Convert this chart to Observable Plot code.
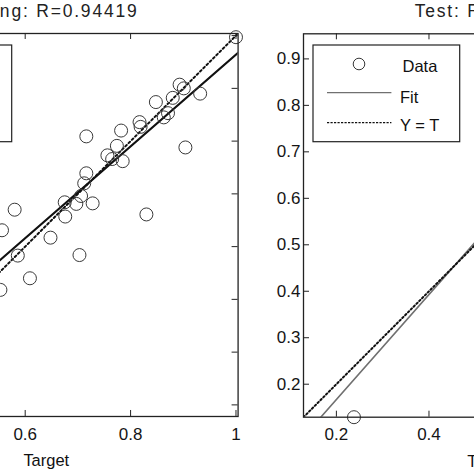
<!DOCTYPE html>
<html><head><meta charset="utf-8">
<script src="https://cdn.jsdelivr.net/npm/d3@7"></script>
<script src="https://cdn.jsdelivr.net/npm/@observablehq/plot@0.6"></script>
<style>
html,body{margin:0;padding:0;background:#fff;}
#wrap{position:relative;width:474px;height:474px;overflow:hidden;background:#fff;}
#wrap svg{position:absolute;top:0;}
</style></head><body><div id="wrap"></div>
<script>
// ---- Training panel (left, cropped on its left side) ----
const trainTitle = "Training: R=0.94419";
const trainTarget = [1.0, 0.893, 0.901, 0.932, 0.880, 0.848, 0.871, 0.863, 0.817, 0.819, 0.782, 0.716, 0.774, 0.904, 0.756, 0.765, 0.785, 0.716, 0.712, 0.706, 0.675, 0.697, 0.728, 0.676, 0.580, 0.830, 0.556, 0.648, 0.586, 0.703, 0.609, 0.553];
const trainOutput = [0.997, 0.907, 0.900, 0.890, 0.882, 0.874, 0.853, 0.845, 0.836, 0.827, 0.820, 0.809, 0.791, 0.788, 0.773, 0.766, 0.762, 0.739, 0.720, 0.696, 0.684, 0.681, 0.682, 0.657, 0.670, 0.661, 0.631, 0.617, 0.583, 0.584, 0.540, 0.518];
const trainFit = [0.87, 0.094]; // slope, intercept
const trainLimits = [0.278, 1.004];
const trainXTicks = [0.4, 0.6, 0.8, 1];
const trainYTicks = [0.3, 0.4, 0.5, 0.6, 0.7, 0.8, 0.9, 1];

// ---- Test panel (right, cropped on its right side) ----
const testTitle = "Test: R=0.9";
const testTarget = [0.238];
const testOutput = [0.129];
const testFit = [1.13, -0.059];
const testLimits = [0.129, 0.954];
const testXTicks = [0.2, 0.4, 0.6, 0.8];
const testYTicks = [0.2, 0.3, 0.4, 0.5, 0.6, 0.7, 0.8, 0.9];

const legendLabels = ["Data", "Fit", "Y = T"];
const axisLabel = "Target";

const FONT = "'Liberation Sans', Arial, Helvetica, sans-serif";
const wrap = document.getElementById("wrap");

function panel(o) {
  const mL = 60, mR = 10;
  const data = o.target.map((t, i) => ({t, o: o.output[i]}));
  const fitLine = o.limits.map(x => ({x, y: o.fit[0] * x + o.fit[1]}));
  const idLine = o.limits.map(x => ({x, y: x}));
  const svg = Plot.plot({
    width: mL + o.areaW + mR, height: 474,
    marginLeft: mL, marginRight: mR, marginTop: o.top, marginBottom: 474 - o.top - o.areaH,
    x: {domain: o.limits}, y: {domain: o.limits},
    style: {background: "none", fontFamily: FONT, fontSize: "17px", color: "#151515", overflow: "visible", maxWidth: "none"},
    marks: [
      Plot.line(fitLine, {x: "x", y: "y", stroke: o.fitColor, strokeWidth: o.fitWidth, clip: true}),
      Plot.line(idLine, {x: "x", y: "y", stroke: "#111", strokeWidth: 2, strokeDasharray: o.dash, clip: true}),
      Plot.dot(data, {x: "t", y: "o", r: 6.5, stroke: "#383838", strokeWidth: 1, fill: "none"}),
      Plot.frame({stroke: "#222", strokeWidth: 1.3}),
      Plot.tickX(o.xTicks, {x: d => d, insetTop: o.areaH - 6, stroke: "#222"}),
      Plot.tickX(o.xTicks, {x: d => d, insetBottom: o.areaH - 6, stroke: "#222"}),
      Plot.tickY(o.yTicks, {y: d => d, insetLeft: o.areaW - 6, stroke: "#222"}),
      Plot.tickY(o.yTicks, {y: d => d, insetRight: o.areaW - 6, stroke: "#222"}),
      Plot.axisX(o.xTicks, {tickSize: 0, tickPadding: 11, tickFormat: d => String(d), label: null}),
      Plot.axisY(o.yTicks, {tickSize: 0, tickPadding: 3, tickFormat: d => String(d), label: null})
    ]
  });
  svg.style.left = o.left + "px";
  wrap.appendChild(svg);
  const s = d3.select(svg);
  // title
  s.append("text").attr("x", o.titleX).attr("y", 16.7).attr("text-anchor", o.titleAnchor)
    .attr("font-family", FONT).attr("font-size", 17.5).attr("letter-spacing", "1.8px")
    .attr("fill", "#222").text(o.title);
  // x label
  s.append("text").attr("x", o.labelX).attr("y", 466.5).attr("text-anchor", "middle")
    .attr("font-family", FONT).attr("font-size", 16.5).attr("fill", "#111").text(axisLabel);
  // legend
  const g = s.append("g").attr("transform", `translate(${mL + 10},45)`);
  g.append("rect").attr("width", 146.7).attr("height", 96.7).attr("fill", "#fff").attr("stroke", "#222").attr("stroke-width", 1.2);
  g.append("circle").attr("cx", 46).attr("cy", 19).attr("r", 5.8).attr("fill", "none").attr("stroke", "#383838");
  g.append("line").attr("x1", 14).attr("x2", 78.4).attr("y1", 47.7).attr("y2", 47.7).attr("stroke", o.fitColor).attr("stroke-width", 1.3);
  g.append("line").attr("x1", 14).attr("x2", 78.4).attr("y1", 77.7).attr("y2", 77.7).attr("stroke", "#111").attr("stroke-width", 1.3).attr("stroke-dasharray", "2.2,1.3");
  const ys = [26.7, 58.3, 85.7];
  const xs = [89.5, 87, 87];
  legendLabels.forEach((t, i) => g.append("text").attr("x", xs[i]).attr("y", ys[i]).attr("text-anchor", "start")
    .attr("font-family", FONT).attr("font-size", 16.5).attr("fill", "#111").text(t));
}

panel({target: trainTarget, output: trainOutput, fit: trainFit, limits: trainLimits,
  xTicks: trainXTicks, yTicks: trainYTicks,
  fitColor: "#111", fitWidth: 2.2, dash: "2,2.6",
  areaW: 382.6, areaH: 383, top: 33, left: -204.9,
  title: trainTitle, titleAnchor: "end", titleX: 343.5, labelX: 60 + 382.6 / 2});

panel({target: testTarget, output: testOutput, fit: testFit, limits: testLimits,
  xTicks: testXTicks, yTicks: testYTicks,
  fitColor: "#707070", fitWidth: 1.6, dash: "1.6,2.4",
  areaW: 382, areaH: 383.4, top: 33.3, left: 243.3,
  title: testTitle, titleAnchor: "start", titleX: 171.7, labelX: 247.2});
</script></body></html>
